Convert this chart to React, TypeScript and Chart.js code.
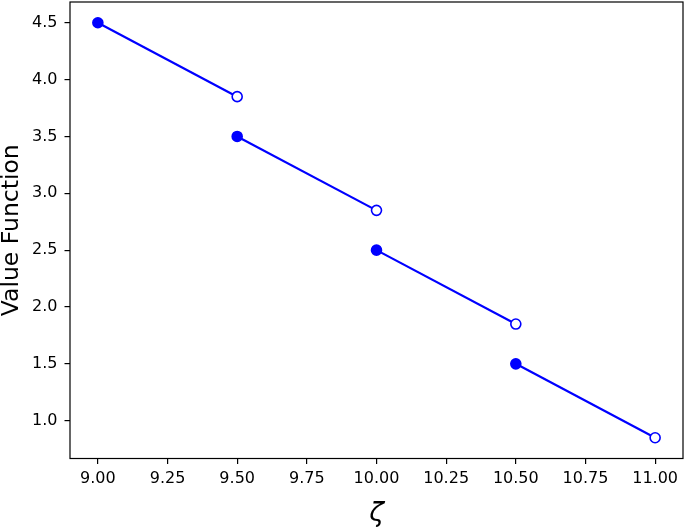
import React, { useEffect, useRef } from "react";
import { Chart, registerables } from "chart.js";

Chart.register(...registerables);

const segStartX = [9.0, 9.5, 10.0, 10.5];
const segEndX = [9.5, 10.0, 10.5, 11.0];
const segStartY = [4.5, 3.5, 2.5, 1.5];
const segEndY = [3.85, 2.85, 1.85, 0.85];

const xTicks = [9.0, 9.25, 9.5, 9.75, 10.0, 10.25, 10.5, 10.75, 11.0];
const yTicks = [1.0, 1.5, 2.0, 2.5, 3.0, 3.5, 4.0, 4.5];

const LINE_COLOR = "#0000ff";
const FONT = "'DejaVu Sans', sans-serif";

const framePlugin = {
  id: "frame",
  afterDraw(chart: any) {
    const { ctx, chartArea } = chart;
    ctx.save();
    ctx.strokeStyle = "#000";
    ctx.lineWidth = 1.2;
    ctx.strokeRect(
      chartArea.left,
      chartArea.top,
      chartArea.right - chartArea.left,
      chartArea.bottom - chartArea.top
    );
    ctx.restore();
  },
};

export default function App() {
  const ref = useRef<HTMLCanvasElement | null>(null);

  useEffect(() => {
    if (!ref.current) return;
    const datasets = segStartX.map((x0, i) => ({
      data: [
        { x: x0, y: segStartY[i] },
        { x: segEndX[i], y: segEndY[i] },
      ],
      borderColor: LINE_COLOR,
      borderWidth: 2.2,
      pointRadius: 5,
      pointBorderWidth: 1.6,
      pointBorderColor: LINE_COLOR,
      pointBackgroundColor: [LINE_COLOR, "#ffffff"],
      showLine: true,
      fill: false,
    }));

    const chart = new Chart(ref.current, {
      type: "scatter",
      data: { datasets },
      plugins: [framePlugin],
      options: {
        responsive: false,
        animation: false,
        devicePixelRatio: 1,
        layout: { autoPadding: false, padding: { top: 2, right: 2, left: 0, bottom: 0 } },
        plugins: {
          legend: { display: false },
          tooltip: { enabled: false },
        },
        scales: {
          x: {
            type: "linear",
            min: 8.9,
            max: 11.1,
            afterBuildTicks: (scale: any) => {
              scale.ticks = xTicks.map((v) => ({ value: v }));
            },
            afterFit: (scale: any) => {
              scale.height = 69.5;
              scale.paddingLeft = 0;
              scale.paddingRight = 0;
            },
            border: { display: false },
            grid: {
              drawOnChartArea: false,
              drawTicks: true,
              tickLength: 5.5,
              color: "#000",
              lineWidth: 1.2,
            },
            ticks: {
              autoSkip: false,
              maxRotation: 0,
              padding: 5,
              color: "#000",
              font: { family: FONT, size: 16 },
              callback: (v: any) => Number(v).toFixed(2),
            },
            title: {
              display: true,
              text: "ζ",
              color: "#000",
              padding: { top: 0, bottom: 1 },
              font: { family: FONT, size: 27, style: "italic", lineHeight: 1 },
            },
          },
          y: {
            type: "linear",
            min: 0.6675,
            max: 4.6825,
            afterBuildTicks: (scale: any) => {
              scale.ticks = yTicks.map((v) => ({ value: v }));
            },
            afterFit: (scale: any) => {
              scale.width = 70;
              scale.paddingTop = 0;
              scale.paddingBottom = 0;
            },
            border: { display: false },
            grid: {
              drawOnChartArea: false,
              drawTicks: true,
              tickLength: 5.5,
              color: "#000",
              lineWidth: 1.2,
            },
            ticks: {
              autoSkip: false,
              padding: 7,
              color: "#000",
              font: { family: FONT, size: 16 },
              callback: (v: any) => Number(v).toFixed(1),
            },
            title: {
              display: true,
              text: "Value Function",
              color: "#000",
              padding: { top: 0, bottom: 0 },
              font: { family: FONT, size: 23.5, lineHeight: 1 },
            },
          },
        },
      },
    } as any);

    return () => chart.destroy();
  }, []);

  return (
    <div style={{ position: "fixed", left: 0, top: 0, width: 685, height: 528, background: "#fff" }}>
      <canvas ref={ref} width={685} height={528} style={{ display: "block" }} />
    </div>
  );
}
